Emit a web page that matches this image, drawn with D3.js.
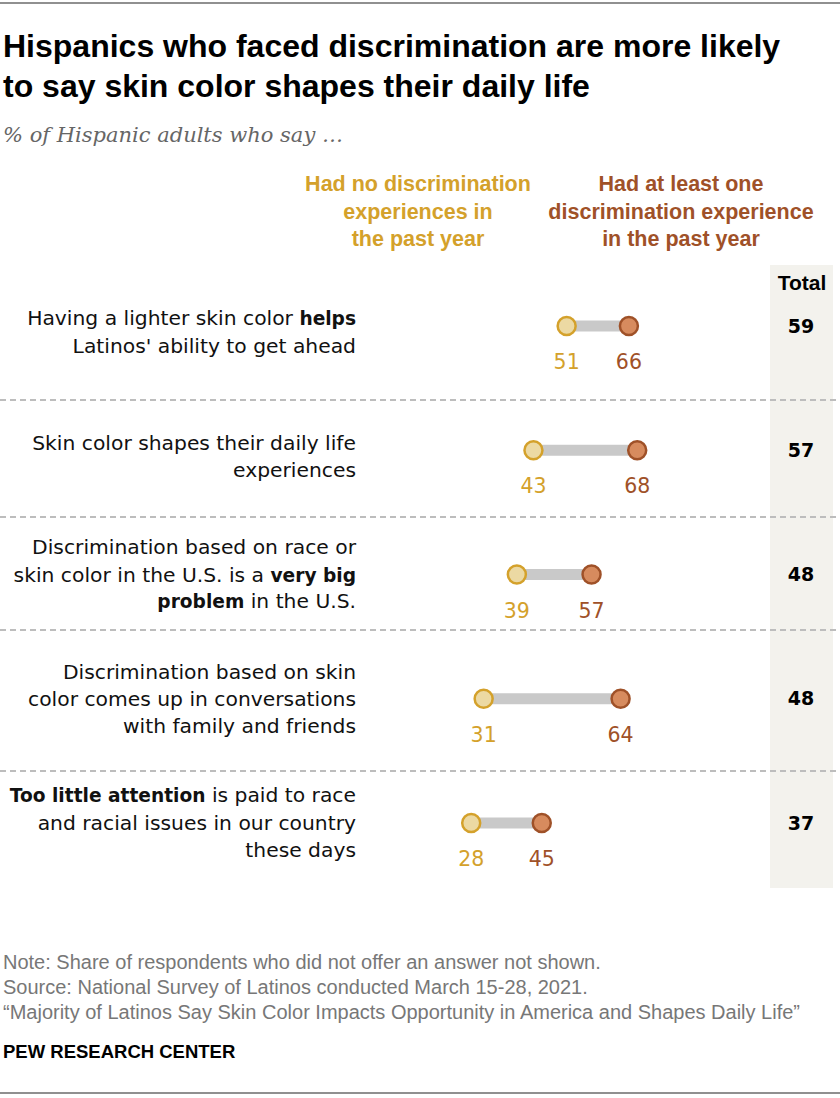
<!DOCTYPE html>
<html>
<head>
<meta charset="utf-8">
<script src="https://cdn.jsdelivr.net/npm/d3@7"></script>
<style>
  body { margin: 0; background: #fff; }
  svg { display: block; }
</style>
</head>
<body>
<div id="chart"></div>
<script>
// Data
const noDiscrimination = [51, 43, 39, 31, 28];
const oneOrMore = [66, 68, 57, 64, 45];
const totals = [59, 57, 48, 48, 37];

// each label is a list of lines, each line a list of [text, bold] pieces
const labels = [
    [[["Having a lighter skin color ", false], ["helps", true]],
     [["Latinos' ability to get ahead", false]]],
    [[["Skin color shapes their daily life", false]],
     [["experiences", false]]],
    [[["Discrimination based on race or", false]],
     [["skin color in the U.S. is a ", false], ["very big", true]],
     [["problem", true], [" in the U.S.", false]]],
    [[["Discrimination based on skin", false]],
     [["color comes up in conversations", false]],
     [["with family and friends", false]]],
    [[["Too little attention", true], [" is paid to race", false]],
     [["and racial issues in our country", false]],
     [["these days", false]]]
];

const legendNo = ["Had no discrimination", "experiences in", "the past year"];
const legendYes = ["Had at least one", "discrimination experience", "in the past year"];

const titleLines = ["Hispanics who faced discrimination are more likely",
                    "to say skin color shapes their daily life"];
const subtitle = "% of Hispanic adults who say \u2026";
const notes = ["Note: Share of respondents who did not offer an answer not shown.",
               "Source: National Survey of Latinos conducted March 15-28, 2021.",
               "\u201cMajority of Latinos Say Skin Color Impacts Opportunity in America and Shapes Daily Life\u201d"];

const W = 840, H = 1098;
const gold = "#d4a12b", brown = "#9f5128";
const head = "'Liberation Sans', Arial, sans-serif";
const body = "'DejaVu Sans', sans-serif";

const svg = d3.select("#chart").append("svg")
    .attr("width", W)
    .attr("height", H);

// top and bottom rules
svg.append("line").attr("x1", 0).attr("x2", W).attr("y1", 3).attr("y2", 3)
    .attr("stroke", "#222").attr("stroke-width", 1.2);
svg.append("line").attr("x1", 0).attr("x2", W).attr("y1", 1093).attr("y2", 1093)
    .attr("stroke", "#222").attr("stroke-width", 1.2);

// title
svg.selectAll("text.title")
    .data(titleLines)
    .enter().append("text")
    .attr("class", "title")
    .attr("x", 3)
    .attr("y", (d, i) => 57 + i * 40)
    .style("font-family", head)
    .style("font-weight", "bold")
    .style("font-size", "32px")
    .style("fill", "#000")
    .text(d => d);

svg.append("text")
    .attr("x", 3)
    .attr("y", 142)
    .style("font-family", "'DejaVu Serif', 'Liberation Serif', serif")
    .style("font-style", "italic")
    .style("font-size", "21px")
    .style("fill", "#666")
    .text(subtitle);

// scales
const x = d3.scaleLinear().domain([0, 100]).range([355, 770]);
const y = d3.scalePoint().domain(d3.range(labels.length)).range([326, 823]);

// total column
svg.append("rect")
    .attr("x", 770)
    .attr("y", 265)
    .attr("width", 63)
    .attr("height", 623)
    .style("fill", "#f3f2ed");

svg.append("text")
    .attr("x", 802)
    .attr("y", 290)
    .attr("text-anchor", "middle")
    .style("font-family", head)
    .style("font-weight", "bold")
    .style("font-size", "21px")
    .text("Total");

// legend headers
function header(lines, cx, color) {
    svg.append("g").selectAll("text")
        .data(lines)
        .enter().append("text")
        .attr("x", cx)
        .attr("y", (d, i) => 191 + i * 27.5)
        .attr("text-anchor", "middle")
        .style("font-family", head)
        .style("font-weight", "bold")
        .style("font-size", "21.5px")
        .style("fill", color)
        .text(d => d);
}
header(legendNo, 418, gold);
header(legendYes, 681, brown);

// dashed dividers between rows
const dividerY = [400, 517, 630, 771];
svg.selectAll("line.divider")
    .data(dividerY)
    .enter().append("line")
    .attr("class", "divider")
    .attr("x1", 0)
    .attr("x2", W)
    .attr("y1", d => d)
    .attr("y2", d => d)
    .attr("stroke", "#bdbdbd")
    .attr("stroke-width", 2)
    .attr("stroke-dasharray", "6,4");

const rows = svg.selectAll("g.row")
    .data(labels.map((l, i) => ({
        label: l, lo: noDiscrimination[i], hi: oneOrMore[i], total: totals[i], i: i
    })))
    .enter().append("g")
    .attr("class", "row")
    .attr("transform", d => `translate(0, ${y(d.i)})`);

// row labels, right aligned
const lh = 27.3;
rows.each(function(d) {
    const n = d.label.length;
    const top = -(n - 1) * lh / 2 + (3 - n) * 6;
    const t = d3.select(this).append("text")
        .attr("text-anchor", "end")
        .style("font-family", body)
        .style("fill", "#111");
    d.label.forEach((line, j) => {
        line.forEach((piece, k) => {
            const ts = t.append("tspan")
                .style("font-weight", piece[1] ? "bold" : "normal")
                .style("font-size", piece[1] ? "18.6px" : "20.3px")
                .text(piece[0]);
            if (k === 0) ts.attr("x", 356).attr("y", top + j * lh).attr("dy", "0.35em");
        });
    });
});

// connecting bar
rows.append("line")
    .attr("x1", d => x(d.lo))
    .attr("x2", d => x(d.hi))
    .attr("stroke", "#c9c9c9")
    .attr("stroke-width", 11);

rows.append("circle")
    .attr("cx", d => x(d.lo))
    .attr("r", 9)
    .style("fill", "#ecd9a3")
    .style("stroke", gold)
    .style("stroke-width", 2.5);

rows.append("circle")
    .attr("cx", d => x(d.hi))
    .attr("r", 9)
    .style("fill", "#d78b5e")
    .style("stroke", brown)
    .style("stroke-width", 2.5);

rows.append("text")
    .attr("x", d => x(d.lo))
    .attr("y", 36)
    .attr("dy", "0.35em")
    .attr("text-anchor", "middle")
    .style("font-family", body)
    .style("font-size", "20.5px")
    .style("fill", gold)
    .text(d => d.lo);

rows.append("text")
    .attr("x", d => x(d.hi))
    .attr("y", 36)
    .attr("dy", "0.35em")
    .attr("text-anchor", "middle")
    .style("font-family", body)
    .style("font-size", "20.5px")
    .style("fill", brown)
    .text(d => d.hi);

rows.append("text")
    .attr("x", 801)
    .attr("dy", "0.35em")
    .attr("text-anchor", "middle")
    .style("font-family", body)
    .style("font-weight", "bold")
    .style("font-size", "19px")
    .style("fill", "#000")
    .text(d => d.total);

// notes
svg.selectAll("text.note")
    .data(notes)
    .enter().append("text")
    .attr("class", "note")
    .attr("x", 3)
    .attr("y", (d, i) => 969 + i * 25)
    .style("font-family", head)
    .style("font-size", "20px")
    .style("fill", "#777")
    .text(d => d);

svg.append("text")
    .attr("x", 3)
    .attr("y", 1058)
    .style("font-family", head)
    .style("font-weight", "bold")
    .style("font-size", "18.5px")
    .style("fill", "#000")
    .text("PEW RESEARCH CENTER");
</script>
</body>
</html>
